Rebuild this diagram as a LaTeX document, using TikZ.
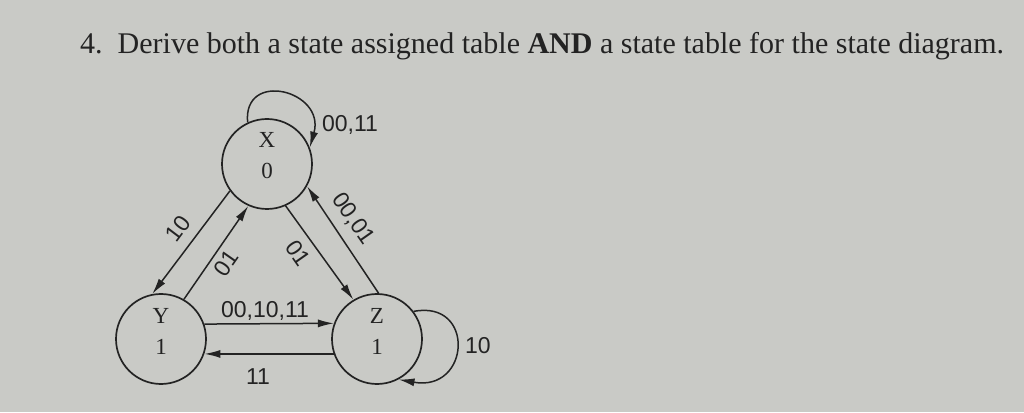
\documentclass[tikz,border=0pt]{standalone}
\usepackage{fontspec}
\setmainfont{Liberation Serif}
\newfontfamily\lblfont{Liberation Sans}
\usetikzlibrary{arrows.meta}
\definecolor{paper}{RGB}{201,202,198}
\definecolor{ink}{RGB}{35,35,35}
\begin{document}
\begin{tikzpicture}[x=1pt,y=1pt,
  state/.style={circle,draw=ink,line width=1.7pt,minimum size=90pt,inner sep=0pt},
  statetxt/.style={align=center,text=ink,font=\fontsize{23}{31}\selectfont,yshift=8pt},
  edge/.style={draw=ink,line width=1.5pt,-{Latex[length=16pt,width=8pt]}},
  lbl/.style={text=ink,font=\lblfont\fontsize{23}{23}\selectfont,inner sep=0pt}]
\pgfmathsetmacro{\ka}{19.5}
\fill[paper](0,0)rectangle(1024,412);
\useasboundingbox(0,0)rectangle(1024,412);
\node[anchor=base west,text=ink,font=\fontsize{30}{30}\selectfont,inner sep=0pt](title)at(80,358.7){4.\ \ Derive both a state assigned table \textbf{AND} a state table for the state diagram.};
\node[state,label={[statetxt]center:X\\0}](X)at(267,248){};
\node[state,label={[statetxt]center:Y\\1}](Y)at(161,73){};
\node[state,label={[statetxt]center:Z\\1}](Z)at(377,73){};
\draw[edge](X.115)..controls +(-5,53) and +(16,57)..(X.21);
\draw[edge](X.216)--(Y.101);
\draw[edge](Y.60)--(X.246);
\draw[edge](X.294)--(Z.121);
\draw[edge](Z.88)--(X.331);
\draw[edge](Y.\ka)--(Z.180-\ka);
\draw[edge](Z.180+\ka)--(Y.-\ka);
\draw[edge](Z.37)..controls +(62,12) and +(72,-13)..(Z.-62);
\node[lbl](lXX)at(350,287){00,11};
\node[lbl,rotate=53](lXY)at(178,183){10};
\node[lbl,rotate=55](lYX)at(226,149){01};
\node[lbl,rotate=-55](lXZ)at(298,159){01};
\node[lbl,rotate=-55](lZX)at(353,193){00,01};
\node[lbl](lYZ)at(265,101){00,10,11};
\node[lbl](lZY)at(258,35){11};
\node[lbl,anchor=west](lZZ)at(465,66){10};
\end{tikzpicture}
\end{document}
